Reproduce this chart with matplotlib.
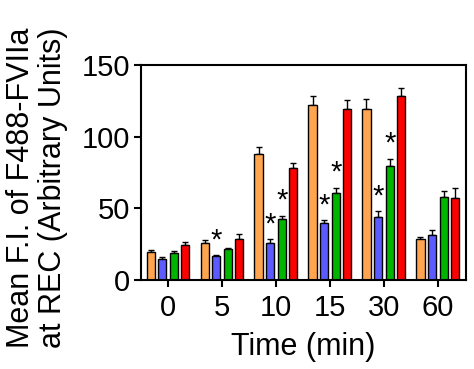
import numpy as np
import matplotlib
matplotlib.use('Agg')
import matplotlib.pyplot as plt

plt.rcParams['font.family'] = ['Liberation Sans', 'DejaVu Sans']

# Data
times = ['0', '5', '10', '15', '30', '60']
orange = [19.7, 26, 88, 122, 119, 28.4]
blue = [15, 16.7, 26, 39.8, 44, 31.2]
green = [19, 21.4, 42.3, 60.5, 79.8, 57.7]
red = [24.4, 28.4, 78, 119, 128, 57]
orange_err = [1, 2, 4.6, 6, 7, 1.8]
blue_err = [1, 0.5, 2.6, 2.2, 4, 3.7]
green_err = [1, 1, 2.7, 4, 4.8, 4.6]
red_err = [2, 4, 3.4, 6.5, 5.6, 7]
# significance stars: (group index, series index)
stars = [(1, 1), (2, 1), (2, 2), (3, 1), (3, 2), (4, 1), (4, 2)]

series = [orange, blue, green, red]
errs = [orange_err, blue_err, green_err, red_err]
colors = ['#FFA54F', '#5B5BFF', '#00B400', '#FF0000']

fig = plt.figure(figsize=(4.74, 3.69), dpi=100)
ax = fig.add_axes([0.2975, 0.241, 0.6855, 0.583])

x = np.arange(len(times))
pitch = 0.215
width = 0.15
for i, (vals, e, c) in enumerate(zip(series, errs, colors)):
    pos = x + (i - 1.5) * pitch
    ax.bar(pos, vals, width=width, color=c, edgecolor='black', linewidth=1.0, zorder=2)
    ax.errorbar(pos, vals, yerr=[np.zeros(len(e)), e], fmt='none', ecolor='black',
                elinewidth=1.0, capsize=2.5, capthick=1.0, zorder=1)

for g, s in stars:
    xp = x[g] + (s - 1.5) * pitch
    yp = series[s][g] + errs[s][g] + 0.5
    ax.text(xp, yp, '*', ha='center', va='bottom', fontsize=21)

ax.set_xlim(-0.5, 5.52)
ax.set_ylim(0, 150)
ax.set_yticks([0, 50, 100, 150])
ax.set_xticks(x)
ax.set_xticklabels(times)
ax.tick_params(axis='both', labelsize=21, width=1.5, length=5, pad=3, direction='out')
ax.tick_params(axis='x', pad=5)
for sp in ax.spines.values():
    sp.set_linewidth(1.5)
ax.set_xlabel('Time (min)', fontsize=22, labelpad=7)
ax.set_ylabel('Mean F.I. of F488-FVIIa\nat REC (Arbitrary Units)', fontsize=22, linespacing=1.1)
ax.yaxis.set_label_coords(-0.225, 0.43)

fig.savefig('out.png', dpi=100)
